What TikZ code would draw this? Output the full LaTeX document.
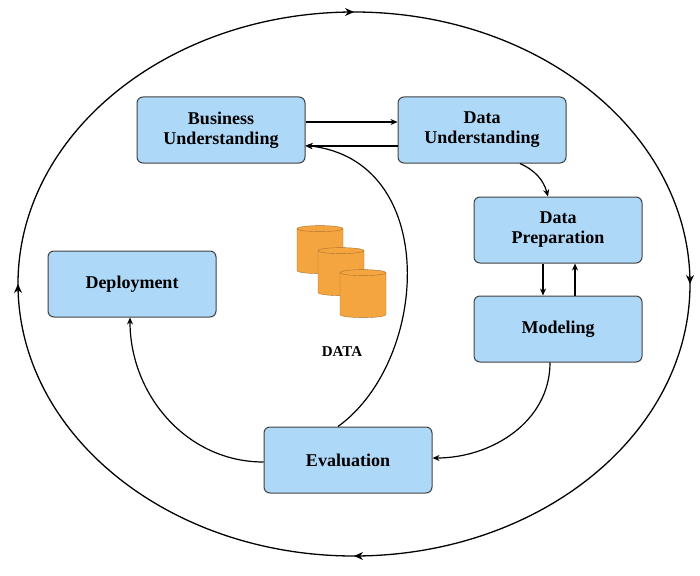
\documentclass[tikz,border=0pt]{standalone}
\usepackage{fontspec}
\setmainfont{Liberation Serif}
\usetikzlibrary{shapes.geometric,arrows.meta,decorations.markings}
\definecolor{boxblue}{HTML}{AED8F8}
\definecolor{cyl}{HTML}{F5A540}
\begin{document}
\begin{tikzpicture}[x=1pt,y=-1pt,
  box/.style={draw=black!75,line width=1pt,fill=boxblue,rounded corners=6pt,minimum width=168pt,minimum height=66pt,align=center,font=\bfseries\fontsize{18}{20}\selectfont},
  arr/.style={-{Stealth[length=7pt,width=6pt]},line width=1.2pt},
  cy/.style={cylinder,shape border rotate=90,aspect=0.9,draw=cyl!70!black,fill=cyl,minimum width=46pt,minimum height=48pt}]
\useasboundingbox (0,0) rectangle (700,575);
\draw[line width=1.3pt,postaction={decorate},decoration={markings,
  mark=at position 0.0 with {\arrow{Stealth[length=9pt,width=8pt]}},
  mark=at position 0.25 with {\arrow{Stealth[length=9pt,width=8pt]}},
  mark=at position 0.5 with {\arrow{Stealth[length=9pt,width=8pt]}},
  mark=at position 0.75 with {\arrow{Stealth[length=9pt,width=8pt]}}}]
  (354,12) arc[start angle=90,end angle=-270,x radius=336,y radius=-272];
\node[box] (bu) at (221,130) {Business\\Understanding};
\node[box] (du) at (482,130) {Data\\Understanding};
\node[box] (dp) at (558,230) {Data\\Preparation};
\node[box] (mo) at (558,329) {Modeling};
\node[box] (de) at (132,284) {Deployment};
\node[box] (ev) at (348,460) {Evaluation};
\node[cy] (c1) at (320,252) {};
\node[cy] (c2) at (341,274) {};
\node[cy] (c3) at (363,296) {};
\node[font=\bfseries\fontsize{15}{17}\selectfont] (dl) at (342,352) {DATA};
\draw[arr] ([yshift=8pt]bu.east) -- ([yshift=8pt]bu.east -| du.west);
\draw[arr] ([yshift=-16pt]du.west) -- ([yshift=-16pt]du.west -| bu.east);
\draw[arr] ([xshift=38pt]du.south) to[bend left=25] ([xshift=-10pt]dp.north);
\draw[arr] ([xshift=-15pt]dp.south) -- ([xshift=-15pt]mo.north);
\draw[arr] ([xshift=17pt]mo.north) -- ([xshift=17pt]dp.south);
\draw[arr] ([xshift=-8pt]mo.south) to[out=-90,in=0] ([yshift=2pt]ev.east);
\draw[arr] ([xshift=-10pt]ev.north) .. controls (430,360) and (440,160) .. ([yshift=18pt]bu.south east);
\draw[arr] ([yshift=-2pt]ev.west) to[out=180,in=-90] ([xshift=-2pt]de.south);
\end{tikzpicture}
\end{document}
